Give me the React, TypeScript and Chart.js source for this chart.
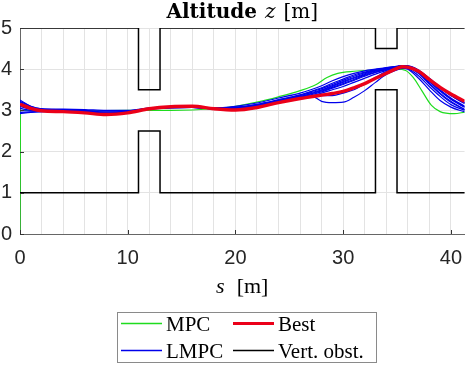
import React, { useEffect, useRef } from "react";
import { Chart, registerables } from "chart.js";
Chart.register(...registerables);

// ---------- data ----------
const X_MAX = 41.27;
const X_LABEL_TICKS = [0, 10, 20, 30, 40];
const Y_TICKS = [0, 1, 2, 3, 4, 5];

const S_GRID = [0, 1, 2, 4, 6, 8, 10, 12, 14, 16, 18, 20, 22, 24, 26, 27, 28, 29, 30, 31, 32, 33, 34, 35, 35.5, 36, 37, 38, 39, 40, 41.3];

const BEST_Z = [3.15, 3.05, 2.99, 2.97, 2.94, 2.9, 2.94, 3.04, 3.09, 3.1, 3.04, 3.01, 3.07, 3.19, 3.29, 3.33, 3.37, 3.41, 3.46, 3.55, 3.65, 3.78, 3.9, 4.02, 4.06, 4.05, 3.95, 3.75, 3.56, 3.4, 3.22];

const LMPC_1 = [3.25, 3.1, 3.04, 3.03, 3.02, 3.0, 3.0, 3.06, 3.08, 3.08, 3.06, 3.1, 3.18, 3.3, 3.42, 3.5, 3.6, 3.72, 3.82, 3.9, 3.96, 4.0, 4.04, 4.07, 4.08, 4.05, 3.9, 3.66, 3.42, 3.22, 3.02];
const LMPC_2 = [3.2, 3.08, 3.03, 3.02, 3.0, 2.98, 2.99, 3.05, 3.08, 3.08, 3.05, 3.08, 3.15, 3.26, 3.38, 3.46, 3.55, 3.66, 3.76, 3.86, 3.93, 3.99, 4.03, 4.07, 4.09, 4.07, 3.94, 3.72, 3.5, 3.3, 3.1];
const LMPC_3 = [3.15, 3.05, 3.02, 3.01, 2.99, 2.96, 2.98, 3.05, 3.07, 3.08, 3.05, 3.06, 3.13, 3.24, 3.36, 3.43, 3.5, 3.6, 3.7, 3.8, 3.89, 3.96, 4.02, 4.06, 4.08, 4.07, 3.96, 3.76, 3.55, 3.36, 3.16];
const LMPC_4 = [3.1, 3.03, 3.01, 3.0, 2.98, 2.94, 2.97, 3.04, 3.07, 3.07, 3.04, 3.05, 3.11, 3.22, 3.33, 3.4, 3.47, 3.56, 3.65, 3.75, 3.85, 3.93, 4.0, 4.05, 4.08, 4.08, 3.98, 3.78, 3.57, 3.38, 3.19];
const LMPC_5 = [3.05, 3.0, 2.99, 2.98, 2.96, 2.92, 2.96, 3.04, 3.07, 3.07, 3.04, 3.05, 3.12, 3.22, 3.32, 3.36, 3.22, 3.19, 3.2, 3.32, 3.48, 3.68, 3.87, 3.98, 4.02, 4.0, 3.78, 3.5, 3.24, 3.08, 2.96];
const LMPC_6 = [3.0, 2.98, 2.98, 2.97, 2.95, 2.9, 2.95, 3.03, 3.06, 3.07, 3.04, 3.04, 3.1, 3.2, 3.3, 3.36, 3.36, 3.36, 3.42, 3.5, 3.64, 3.8, 3.94, 4.02, 4.05, 4.02, 3.84, 3.58, 3.34, 3.14, 3.0];
const LMPC_7 = [2.95, 2.96, 2.97, 2.97, 2.95, 2.9, 2.94, 3.03, 3.06, 3.07, 3.05, 3.05, 3.1, 3.2, 3.31, 3.38, 3.45, 3.54, 3.63, 3.73, 3.83, 3.92, 3.99, 4.04, 4.07, 4.06, 3.93, 3.7, 3.47, 3.27, 3.07];
const LMPC_8 = [2.92, 2.95, 2.97, 2.98, 2.97, 2.93, 2.96, 3.04, 3.07, 3.08, 3.05, 3.07, 3.14, 3.25, 3.37, 3.45, 3.53, 3.63, 3.73, 3.83, 3.91, 3.97, 4.02, 4.06, 4.08, 4.06, 3.92, 3.7, 3.48, 3.28, 3.09];
const LMPC_9 = [3.22, 3.1, 3.04, 3.01, 2.98, 2.92, 2.95, 3.04, 3.08, 3.09, 3.04, 3.04, 3.09, 3.19, 3.29, 3.35, 3.42, 3.5, 3.58, 3.68, 3.78, 3.88, 3.97, 4.04, 4.07, 4.06, 3.9, 3.64, 3.4, 3.2, 3.02];
const LMPC_10 = [3.12, 3.05, 3.02, 3.0, 2.97, 2.93, 2.96, 3.04, 3.07, 3.08, 3.05, 3.06, 3.12, 3.23, 3.34, 3.41, 3.49, 3.58, 3.68, 3.78, 3.87, 3.95, 4.01, 4.06, 4.09, 4.08, 3.97, 3.77, 3.56, 3.36, 3.18];
const LMPC_RUNS = [LMPC_1, LMPC_2, LMPC_3, LMPC_4, LMPC_5, LMPC_6, LMPC_7, LMPC_8, LMPC_9, LMPC_10];

const MPC_S = [0, 0.05, 1, 2, 6, 10, 14, 18, 20, 22, 24, 26, 27.5, 28.5, 29.5, 31, 33, 35, 35.8, 36.5, 37.3, 38.2, 39, 40.3, 41.3];
const MPC_Z = [0, 3.0, 3.0, 3.0, 2.99, 3.0, 3.0, 3.04, 3.1, 3.2, 3.33, 3.48, 3.63, 3.8, 3.9, 3.95, 3.98, 4.0, 3.97, 3.8, 3.48, 3.12, 2.97, 2.92, 2.96];

const OBST_S = [0, 11, 11, 13, 13, 33, 33, 35, 35, 45];
const OBST_UPPER = [5, 5, 3.5, 3.5, 5, 5, 4.5, 4.5, 5, 5];
const OBST_LOWER = [1, 1, 2.5, 2.5, 1, 1, 3.5, 3.5, 1, 1];

const GREEN = "rgb(30,220,30)";
const BLUE = "rgb(0,0,235)";
const RED = "rgb(235,0,25)";
const BLACK = "#000000";

const SERIF = "'Liberation Serif', 'Times New Roman', serif";
const TITLE_SERIF = "'DejaVu Serif', serif";
const SANS = "'Liberation Sans', Arial, sans-serif";

const LEGEND_ITEMS = [
  { label: "MPC", color: GREEN, width: 1.5, col: 0, row: 0 },
  { label: "Best", color: RED, width: 3, col: 1, row: 0 },
  { label: "LMPC", color: BLUE, width: 1.5, col: 0, row: 1 },
  { label: "Vert. obst.", color: BLACK, width: 1.5, col: 1, row: 1 },
];

const decorPlugin = {
  id: "decor",
  afterDraw(chart: any) {
    const ctx = chart.ctx as CanvasRenderingContext2D;
    const area = chart.chartArea;
    const xs = chart.scales.x;
    const ys = chart.scales.y;
    const cx = (area.left + area.right) / 2;
    ctx.save();
    // tick marks (inward)
    ctx.strokeStyle = "#333";
    ctx.lineWidth = 1;
    ctx.beginPath();
    X_LABEL_TICKS.forEach((v) => {
      const px = Math.round(xs.getPixelForValue(v)) + 0.5;
      ctx.moveTo(px, area.bottom);
      ctx.lineTo(px, area.bottom - 4);
    });
    Y_TICKS.forEach((v) => {
      const py = Math.round(ys.getPixelForValue(v)) + 0.5;
      ctx.moveTo(area.left, py);
      ctx.lineTo(area.left + 4, py);
    });
    ctx.stroke();

    // title
    ctx.fillStyle = "#000";
    ctx.textBaseline = "alphabetic";
    ctx.textAlign = "left";
    const parts = [
      { t: "Altitude", f: `bold 20px ${TITLE_SERIF}`, gap: 8 },
      { t: "z", f: `italic 20px ${TITLE_SERIF}`, gap: 8 },
      { t: "[m]", f: `20px ${TITLE_SERIF}`, gap: 0 },
    ];
    let total = 0;
    parts.forEach((p) => {
      ctx.font = p.f;
      total += ctx.measureText(p.t).width + p.gap;
    });
    let x = cx - total / 2;
    parts.forEach((p) => {
      ctx.font = p.f;
      ctx.fillText(p.t, x, 18);
      x += ctx.measureText(p.t).width + p.gap;
    });

    // x-axis title
    const xparts = [
      { t: "s", f: `italic 22px ${SERIF}`, gap: 12 },
      { t: "[m]", f: `22px ${SERIF}`, gap: 0 },
    ];
    total = 0;
    xparts.forEach((p) => {
      ctx.font = p.f;
      total += ctx.measureText(p.t).width + p.gap;
    });
    x = cx - total / 2;
    xparts.forEach((p) => {
      ctx.font = p.f;
      ctx.fillText(p.t, x, 293);
      x += ctx.measureText(p.t).width + p.gap;
    });

    // legend
    ctx.fillStyle = "#fff";
    ctx.fillRect(117, 312, 260, 51);
    ctx.strokeStyle = "#8a8a8a";
    ctx.lineWidth = 1;
    ctx.strokeRect(117.5, 312.5, 259, 50);
    const colX = [121, 233];
    const rowY = [323.5, 350.5];
    ctx.font = `21px ${SERIF}`;
    LEGEND_ITEMS.forEach((it) => {
      const lx = colX[it.col];
      const ly = rowY[it.row];
      ctx.strokeStyle = it.color;
      ctx.lineWidth = it.width;
      ctx.beginPath();
      ctx.moveTo(lx, ly);
      ctx.lineTo(lx + 41, ly);
      ctx.stroke();
      ctx.fillStyle = "#000";
      ctx.fillText(it.label, lx + 45, ly + 7.5);
    });
    ctx.restore();
  },
};

export default function App() {
  const ref = useRef<HTMLCanvasElement>(null);
  useEffect(() => {
    document.body.style.margin = "0";
    const canvas = ref.current!;
    const mk = (xs: number[], zs: number[]) => xs.map((x, i) => ({ x, y: zs[i] }));
    const traj = (label: string, zs: number[], color: string, width: number) => ({
      label,
      data: mk(S_GRID, zs),
      borderColor: color,
      borderWidth: width,
      pointRadius: 0,
      fill: false,
      cubicInterpolationMode: "monotone" as const,
    });
    const datasets: any[] = [
      { label: "Vert. obst.", data: mk(OBST_S, OBST_UPPER), borderColor: BLACK, borderWidth: 1.5, pointRadius: 0, tension: 0, fill: false },
      { label: "Vert. obst. lower", data: mk(OBST_S, OBST_LOWER), borderColor: BLACK, borderWidth: 1.5, pointRadius: 0, tension: 0, fill: false },
      traj("Best", BEST_Z, RED, 3.4),
      ...LMPC_RUNS.map((z) => traj("LMPC", z, BLUE, 1.2)),
      { label: "MPC", data: mk(MPC_S, MPC_Z), borderColor: GREEN, borderWidth: 1.2, pointRadius: 0, fill: false, cubicInterpolationMode: "monotone" },
    ];
    const tickFont = { family: SANS, size: 20 };
    const chart = new Chart(canvas, {
      type: "line",
      data: { datasets },
      options: {
        responsive: false,
        animation: false,
        devicePixelRatio: 1,
        layout: { padding: { top: 28, left: 0, right: 0, bottom: 0 } },
        plugins: { legend: { display: false }, tooltip: { enabled: false }, title: { display: false } },
        scales: {
          x: {
            type: "linear",
            min: 0,
            max: X_MAX,
            afterFit: (s: any) => {
              s.height = 131;
            },
            ticks: {
              stepSize: 2,
              includeBounds: false,
              autoSkip: false,
              maxRotation: 0,
              padding: 12,
              color: "#262626",
              font: tickFont,
              callback: (v: any) => (Number(v) % 10 === 0 ? String(v) : ""),
            },
            grid: { color: "#e3e3e3", drawTicks: false },
            border: { color: "#666", width: 1 },
          },
          y: {
            type: "linear",
            min: 0,
            max: 5,
            afterFit: (s: any) => {
              s.width = 20;
            },
            ticks: { stepSize: 1, padding: 8, color: "#262626", font: tickFont },
            grid: { color: "#e3e3e3", drawTicks: false },
            border: { color: "#666", width: 1 },
          },
        },
      } as any,
      plugins: [decorPlugin],
    });
    return () => chart.destroy();
  }, []);
  return (
    <div style={{ position: "absolute", left: 0, top: 0, width: 474, height: 365, background: "#fff" }}>
      <canvas ref={ref} width={474} height={365} style={{ display: "block" }} />
    </div>
  );
}
